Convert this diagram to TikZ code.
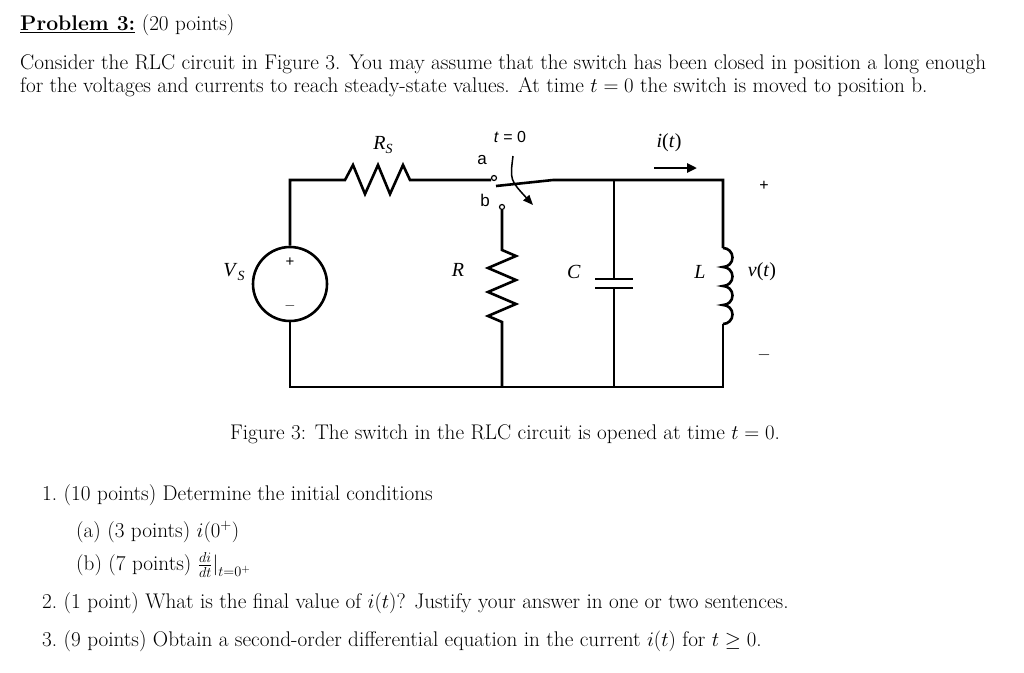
\documentclass[tikz,border=0pt]{standalone}
\usepackage{fontspec}
\newfontfamily\tms{Liberation Serif}
\newfontfamily\hv{Liberation Sans}
\usetikzlibrary{arrows.meta}
\begin{document}
\begin{tikzpicture}[x=1pt,y=-1pt,
  txt/.style={anchor=west,inner sep=0pt,font=\fontsize{21.2}{24}\selectfont},
  lbl/.style={inner sep=0pt,font=\tms\fontsize{20}{22}\selectfont},
  wire/.style={line width=2.6pt,line join=miter}]
\useasboundingbox (0,0) rectangle (1024,672);
% texts
\node[txt] (p) at (20,25) {\textbf{\underline{Problem 3:}} (20 points)};
\node[txt] (l1) at (20,64) {Consider the RLC circuit in Figure 3. You may assume that the switch has been closed in position a long enough};
\node[txt] (l2) at (20,87) {for the voltages and currents to reach steady-state values. At time $t=0$ the switch is moved to position b.};
\node[txt,anchor=center] (cap) at (505,434) {Figure 3: The switch in the RLC circuit is opened at time $t=0$.};
\node[txt] (i1) at (42,495) {1.\ (10 points) Determine the initial conditions};
\node[txt] (ia) at (76,532) {(a) (3 points) $i(0^+)$};
\node[txt] (ib) at (76,565) {(b) (7 points) $\frac{di}{dt}\big|_{t=0^+}$};
\node[txt] (i2) at (42,603) {2.\ (1 point) What is the final value of $i(t)$? Justify your answer in one or two sentences.};
\node[txt] (i3) at (42,641) {3.\ (9 points) Obtain a second-order differential equation in the current $i(t)$ for $t\geq 0$.};
% circuit
\coordinate (tl) at (290,180); \coordinate (bl) at (290,387);
\coordinate (tr) at (723,180); \coordinate (br) at (723,387);
\node[circle,draw,line width=2.6pt,minimum size=74pt,inner sep=0pt] (src) at (290,284) {};
\node[lbl,font=\hv\fontsize{15}{16}\selectfont] (sp) at (290,262) {+};
\node[lbl,font=\hv\fontsize{15}{16}\selectfont] (sm) at (290,306) {$-$};
\draw[wire] (src.north) -- (tl) -- (345,180) -- (353,165) -- (365,194) -- (378,165) -- (390,194) -- (403,165) -- (410,180) -- (416,180) -- (491,180);
\draw[wire] (src.south) -- (bl) -- (br) -- (723,324);
\node[circle,draw,line width=1.2pt,inner sep=0pt,minimum size=5pt] (a) at (494,178) {};
\node[circle,draw,line width=1.2pt,inner sep=0pt,minimum size=5pt] (b) at (502,207) {};
\draw[wire] (496,186) -- (553,180) -- (tr) -- (723,248);
\draw[wire] (b.south) -- (502,250) -- (516,256) -- (488,268) -- (516,280) -- (488,292) -- (516,304) -- (488,316) -- (502,322) -- (502,387);
\draw[wire] (614,180) -- (614,279) (595,279) -- (633,279) (595,288) -- (633,288) (614,288) -- (614,387);
\draw[wire] (723,248) arc[start angle=-90,end angle=90,radius=9.5] arc[start angle=-90,end angle=90,radius=9.5] arc[start angle=-90,end angle=90,radius=9.5] arc[start angle=-90,end angle=90,radius=9.5];
\draw[line width=2.6pt,-{Triangle[length=10pt,width=9pt]}] (654,168) -- (697,168);
\draw[line width=1.5pt,-{Triangle[length=10pt,width=8pt]}] (513,156) .. controls (510,180) .. (533,205);
% labels
\node[lbl] (Rs) at (383,145) {\textit{R}\raisebox{-4pt}{\textit{\fontsize{14}{14}\selectfont S}}};
\node[lbl,font=\hv\fontsize{16}{18}\selectfont] (t0) at (510,137) {\textit{t} = 0};
\node[lbl] (it) at (669,143) {\textit{i}(\textit{t})};
\node[lbl,font=\hv\fontsize{17}{18}\selectfont] (la) at (482,160) {a};
\node[lbl,font=\hv\fontsize{17}{18}\selectfont] (lb) at (485,200) {b};
\node[lbl,font=\hv\fontsize{16}{18}\selectfont] (vp) at (764,186) {+};
\node[lbl] (vt) at (762,272) {\textit{v}(\textit{t})};
\node[lbl,font=\hv\fontsize{16}{18}\selectfont] (vm) at (764,355) {$-$};
\node[lbl] (Vs) at (234,272) {\textit{V}\raisebox{-4pt}{\textit{\fontsize{14}{14}\selectfont S}}};
\node[lbl] (R) at (458,270) {\textit{R}};
\node[lbl] (C) at (574,272) {\textit{C}};
\node[lbl] (L) at (700,272) {\textit{L}};
\end{tikzpicture}
\end{document}
